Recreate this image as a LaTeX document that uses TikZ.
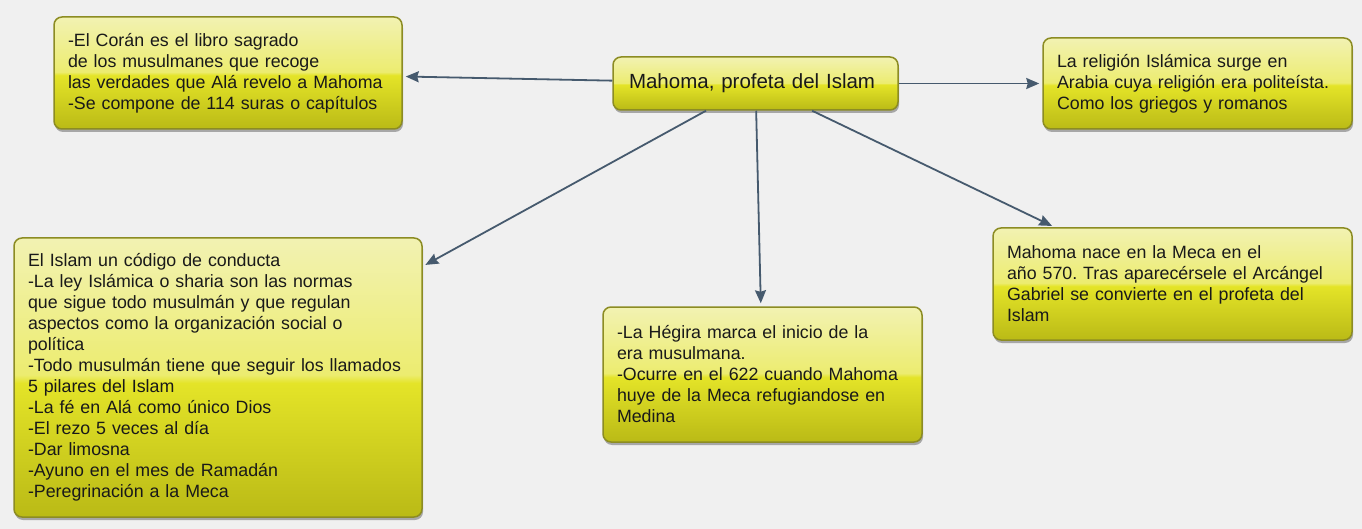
\documentclass[tikz,border=0pt]{standalone}
\usepackage{fontspec}
\setmainfont{Liberation Sans}
\usetikzlibrary{arrows.meta, shadows}
\definecolor{fondo}{RGB}{240,240,240}
\definecolor{borde}{RGB}{140,140,35}
\definecolor{azul}{RGB}{70,90,110}
\definecolor{texto}{RGB}{25,25,25}
\definecolor{ybajo}{RGB}{186,186,22}
\definecolor{ymedio}{RGB}{228,228,40}
\definecolor{ybrillo}{RGB}{236,236,112}
\definecolor{yalto}{RGB}{242,242,178}
\pgfdeclareverticalshading{brillo}{100bp}{color(0bp)=(ybajo); color(25bp)=(ybajo); color(49bp)=(ymedio); color(50.5bp)=(ybrillo); color(75bp)=(yalto); color(100bp)=(yalto)}
\frenchspacing

\begin{document}
\begin{tikzpicture}[x=1pt, y=-1pt,
  caja/.style={draw=borde, line width=1.5pt, rounded corners=8pt, shading=brillo,
    drop shadow={shadow xshift=1pt, shadow yshift=-3pt, opacity=0.3, fill=black},
    align=left, inner xsep=14pt, inner ysep=0pt, text=texto,
    font=\fontsize{17.8}{21}\selectfont},
  flecha/.style={-{Stealth[length=13pt, width=11pt, inset=1.5pt]}, line width=1.8pt, draw=azul, shorten >=3pt}]
\fill[fondo] (0,0) rectangle (1362,529);
\useasboundingbox (0,0) rectangle (1362,529);
\node[caja, minimum width=285pt, minimum height=53pt, inner xsep=16pt, text width=253pt, font=\fontsize{20.5}{24}\selectfont] (centro) at (755.5,83.5) {Mahoma, profeta del Islam};
\node[caja, minimum width=348pt, minimum height=112pt, text width=320pt] (coran) at (228,73) {-El Corán es el libro sagrado\\de los musulmanes que recoge\\las verdades que Alá revelo a Mahoma\\-Se compone de 114 suras o capítulos};
\node[caja, minimum width=309pt, minimum height=91pt, text width=281pt] (religion) at (1197.5,83.5) {La religión Islámica surge en\\Arabia cuya religión era politeísta.\\Como los griegos y romanos};
\node[caja, minimum width=408pt, minimum height=279pt, text width=380pt] (conducta) at (218,377.5) {El Islam un código de conducta\\-La ley Islámica o sharia son las normas\\que sigue todo musulmán y que regulan\\aspectos como la organización social o\\política\\-Todo musulmán tiene que seguir los llamados\\5 pilares del Islam\\-La fé en Alá como único Dios\\-El rezo 5 veces al día\\-Dar limosna\\-Ayuno en el mes de Ramadán\\-Peregrinación a la Meca};
\node[caja, minimum width=319pt, minimum height=135pt, text width=291pt] (hegira) at (762.5,374.5) {-La Hégira marca el inicio de la\\era musulmana.\\-Ocurre en el 622 cuando Mahoma\\huye de la Meca refugiandose en\\Medina};
\node[caja, minimum width=359pt, minimum height=112pt, text width=331pt] (nace) at (1172.5,284) {Mahoma nace en la Meca en el\\año 570. Tras aparecérsele el Arcángel\\Gabriel se convierte en el profeta del\\Islam};
\draw[flecha] (centro) -- (coran);
\draw[flecha] (centro) -- (religion);
\draw[flecha] (centro) -- (conducta);
\draw[flecha] (centro) -- (hegira);
\draw[flecha] (centro) -- (nace);
\end{tikzpicture}
\end{document}
